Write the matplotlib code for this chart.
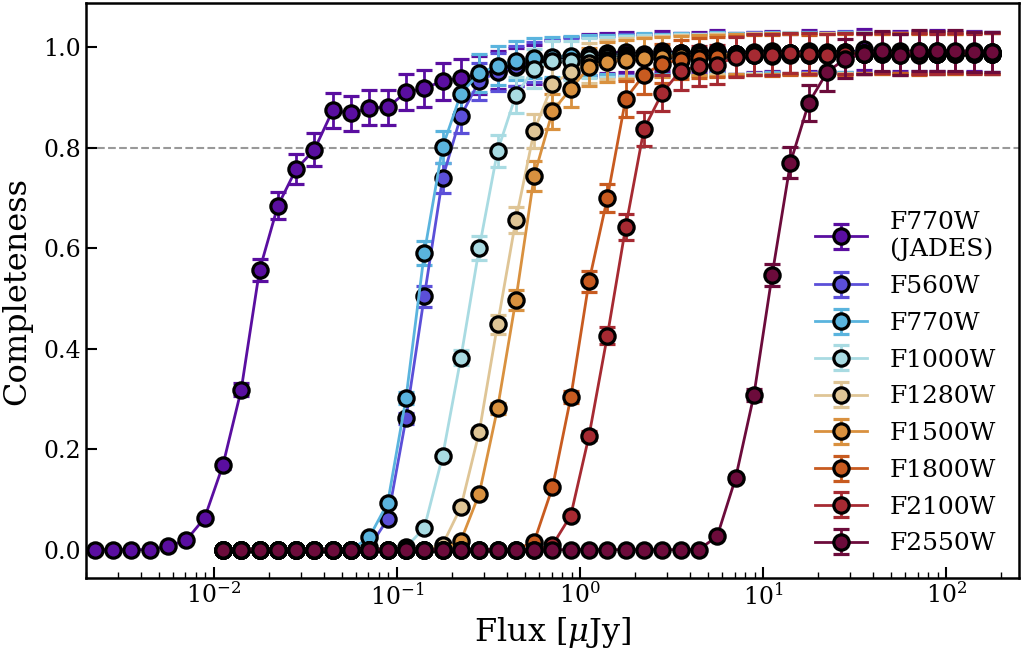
import matplotlib
matplotlib.use("Agg")
import matplotlib.pyplot as plt
import numpy as np

plt.rcParams['font.family'] = 'DejaVu Serif'
plt.rcParams['mathtext.fontset'] = 'dejavuserif'

# flux grid (log10 uJy), 0.1 dex steps
logflux_jades = [-2.65, -2.55, -2.45, -2.35, -2.25, -2.15, -2.05, -1.95, -1.85, -1.75,
                 -1.65, -1.55, -1.45, -1.35, -1.25, -1.15, -1.05, -0.95, -0.85, -0.75,
                 -0.65, -0.55, -0.45, -0.35, -0.25, -0.15, -0.05, 0.05, 0.15, 0.25,
                 0.35, 0.45, 0.55, 0.65, 0.75, 0.85, 0.95, 1.05, 1.15, 1.25,
                 1.35, 1.45, 1.55, 1.65, 1.75, 1.85, 1.95, 2.05, 2.15, 2.25]
logflux_miri = logflux_jades[7:]

comp_jades = [0.0, 0.0, 0.0, 0.0, 0.007, 0.019, 0.063, 0.168, 0.318, 0.556,
              0.684, 0.757, 0.796, 0.874, 0.868, 0.879, 0.880, 0.910, 0.918, 0.932,
              0.939, 0.945, 0.955, 0.960, 0.965, 0.975, 0.980, 0.985, 0.988, 0.990,
              0.985, 0.992, 0.988, 0.990, 0.993, 0.987, 0.990, 0.992, 0.988, 0.993,
              0.990, 0.988, 0.995, 0.990, 0.992, 0.988, 0.993, 0.990, 0.992, 0.990]
err_jades = [0.0, 0.0, 0.0, 0.0, 0.001, 0.002, 0.003, 0.007, 0.013, 0.022,
             0.027, 0.030, 0.032, 0.035, 0.035, 0.035, 0.035, 0.036, 0.037, 0.037,
             0.038, 0.038, 0.038, 0.038, 0.039, 0.039, 0.039, 0.040, 0.040, 0.040,
             0.040, 0.040, 0.040, 0.040, 0.040, 0.040, 0.040, 0.040, 0.040, 0.040,
             0.040, 0.040, 0.040, 0.040, 0.040, 0.040, 0.040, 0.040, 0.040, 0.040]

comp_f560w = [0.0, 0.0, 0.0, 0.0, 0.0, 0.0, 0.0, 0.0, 0.005, 0.061,
              0.261, 0.504, 0.739, 0.863, 0.932, 0.950, 0.962, 0.970, 0.975, 0.978,
              0.980, 0.982, 0.985, 0.984, 0.986, 0.988, 0.985, 0.990, 0.987, 0.989,
              0.990, 0.986, 0.990, 0.988, 0.991, 0.989, 0.990, 0.987, 0.992, 0.990,
              0.988, 0.990, 0.989]
comp_f770w = [0.0, 0.0, 0.0, 0.0, 0.0, 0.0, 0.0, 0.0, 0.025, 0.093,
              0.301, 0.590, 0.801, 0.907, 0.948, 0.963, 0.973, 0.978, 0.980, 0.982,
              0.984, 0.985, 0.983, 0.987, 0.986, 0.988, 0.985, 0.989, 0.987, 0.988,
              0.990, 0.987, 0.989, 0.988, 0.990, 0.986, 0.989, 0.988, 0.990, 0.987,
              0.989, 0.988, 0.990]
comp_f1000w = [0.0, 0.0, 0.0, 0.0, 0.0, 0.0, 0.0, 0.0, 0.0, 0.0,
               0.005, 0.043, 0.186, 0.382, 0.600, 0.793, 0.904, 0.957, 0.973, 0.973,
               0.978, 0.980, 0.982, 0.984, 0.983, 0.986, 0.985, 0.987, 0.986, 0.988,
               0.987, 0.989, 0.986, 0.988, 0.987, 0.989, 0.988, 0.986, 0.989, 0.987,
               0.988, 0.989, 0.987]
comp_f1280w = [0.0, 0.0, 0.0, 0.0, 0.0, 0.0, 0.0, 0.0, 0.0, 0.0,
               0.0, 0.0, 0.010, 0.085, 0.234, 0.448, 0.656, 0.833, 0.926, 0.950,
               0.968, 0.975, 0.978, 0.980, 0.982, 0.984, 0.983, 0.986, 0.985, 0.987,
               0.986, 0.988, 0.985, 0.987, 0.988, 0.986, 0.989, 0.987, 0.988, 0.986,
               0.988, 0.987, 0.989]
comp_f1500w = [0.0, 0.0, 0.0, 0.0, 0.0, 0.0, 0.0, 0.0, 0.0, 0.0,
               0.0, 0.0, 0.0, 0.018, 0.111, 0.281, 0.497, 0.743, 0.872, 0.917,
               0.960, 0.970, 0.975, 0.978, 0.980, 0.982, 0.984, 0.983, 0.986, 0.985,
               0.987, 0.986, 0.988, 0.985, 0.987, 0.988, 0.986, 0.988, 0.987, 0.989,
               0.986, 0.988, 0.987]
comp_f1800w = [0.0, 0.0, 0.0, 0.0, 0.0, 0.0, 0.0, 0.0, 0.0, 0.0,
               0.0, 0.0, 0.0, 0.0, 0.0, 0.0, 0.0, 0.016, 0.124, 0.303,
               0.534, 0.700, 0.897, 0.945, 0.967, 0.975, 0.978, 0.980, 0.982, 0.984,
               0.983, 0.985, 0.984, 0.986, 0.985, 0.987, 0.986, 0.988, 0.985, 0.987,
               0.986, 0.988, 0.987]
comp_f2100w = [0.0, 0.0, 0.0, 0.0, 0.0, 0.0, 0.0, 0.0, 0.0, 0.0,
               0.0, 0.0, 0.0, 0.0, 0.0, 0.0, 0.0, 0.0, 0.009, 0.068,
               0.227, 0.426, 0.642, 0.837, 0.909, 0.953, 0.962, 0.965, 0.980, 0.985,
               0.985, 0.988, 0.987, 0.985, 0.987, 0.986, 0.988, 0.985, 0.987, 0.986,
               0.988, 0.986, 0.987]
comp_f2550w = [0.0, 0.0, 0.0, 0.0, 0.0, 0.0, 0.0, 0.0, 0.0, 0.0,
               0.0, 0.0, 0.0, 0.0, 0.0, 0.0, 0.0, 0.0, 0.0, 0.0,
               0.0, 0.0, 0.0, 0.0, 0.0, 0.0, 0.0, 0.027, 0.142, 0.307,
               0.547, 0.770, 0.889, 0.950, 0.977, 0.987, 0.992, 0.985, 0.993, 0.992,
               0.993, 0.990, 0.990]

# error bars (roughly the same for all MIRI filters at a given completeness)
err_f560w = [0.0, 0.0, 0.0, 0.0, 0.0, 0.0, 0.0, 0.0, 0.001, 0.003,
             0.011, 0.021, 0.030, 0.035, 0.037, 0.038, 0.039, 0.039, 0.039, 0.039,
             0.039, 0.039, 0.040, 0.040, 0.040, 0.040, 0.040, 0.040, 0.040, 0.040,
             0.040, 0.040, 0.040, 0.040, 0.040, 0.040, 0.040, 0.040, 0.040, 0.040,
             0.040, 0.040, 0.040]
err_f770w = [0.0, 0.0, 0.0, 0.0, 0.0, 0.0, 0.0, 0.0, 0.002, 0.004,
             0.012, 0.024, 0.032, 0.036, 0.038, 0.039, 0.039, 0.039, 0.039, 0.039,
             0.039, 0.039, 0.040, 0.040, 0.040, 0.040, 0.040, 0.040, 0.040, 0.040,
             0.040, 0.040, 0.040, 0.040, 0.040, 0.040, 0.040, 0.040, 0.040, 0.040,
             0.040, 0.040, 0.040]
err_f1000w = [0.0, 0.0, 0.0, 0.0, 0.0, 0.0, 0.0, 0.0, 0.0, 0.0,
              0.001, 0.002, 0.008, 0.015, 0.024, 0.032, 0.036, 0.038, 0.039, 0.039,
              0.039, 0.039, 0.040, 0.040, 0.040, 0.040, 0.040, 0.040, 0.040, 0.040,
              0.040, 0.040, 0.040, 0.040, 0.040, 0.040, 0.040, 0.040, 0.040, 0.040,
              0.040, 0.040, 0.040]
err_f1280w = [0.0, 0.0, 0.0, 0.0, 0.0, 0.0, 0.0, 0.0, 0.0, 0.0,
              0.0, 0.0, 0.001, 0.004, 0.009, 0.018, 0.026, 0.033, 0.037, 0.038,
              0.039, 0.039, 0.039, 0.040, 0.040, 0.040, 0.040, 0.040, 0.040, 0.040,
              0.040, 0.040, 0.040, 0.040, 0.040, 0.040, 0.040, 0.040, 0.040, 0.040,
              0.040, 0.040, 0.040]
err_f1500w = [0.0, 0.0, 0.0, 0.0, 0.0, 0.0, 0.0, 0.0, 0.0, 0.0,
              0.0, 0.0, 0.0, 0.001, 0.004, 0.011, 0.020, 0.030, 0.035, 0.037,
              0.038, 0.039, 0.039, 0.039, 0.040, 0.040, 0.040, 0.040, 0.040, 0.040,
              0.040, 0.040, 0.040, 0.040, 0.040, 0.040, 0.040, 0.040, 0.040, 0.040,
              0.040, 0.040, 0.040]
err_f1800w = [0.0, 0.0, 0.0, 0.0, 0.0, 0.0, 0.0, 0.0, 0.0, 0.0,
              0.0, 0.0, 0.0, 0.0, 0.0, 0.0, 0.0, 0.001, 0.005, 0.012,
              0.021, 0.028, 0.036, 0.038, 0.039, 0.039, 0.039, 0.040, 0.040, 0.040,
              0.040, 0.040, 0.040, 0.040, 0.040, 0.040, 0.040, 0.040, 0.040, 0.040,
              0.040, 0.040, 0.040]
err_f2100w = [0.0, 0.0, 0.0, 0.0, 0.0, 0.0, 0.0, 0.0, 0.0, 0.0,
              0.0, 0.0, 0.0, 0.0, 0.0, 0.0, 0.0, 0.0, 0.001, 0.003,
              0.009, 0.017, 0.026, 0.033, 0.036, 0.038, 0.039, 0.039, 0.040, 0.040,
              0.040, 0.040, 0.040, 0.040, 0.040, 0.040, 0.040, 0.040, 0.040, 0.040,
              0.040, 0.040, 0.040]
err_f2550w = [0.0, 0.0, 0.0, 0.0, 0.0, 0.0, 0.0, 0.0, 0.0, 0.0,
              0.0, 0.0, 0.0, 0.0, 0.0, 0.0, 0.0, 0.0, 0.0, 0.0,
              0.0, 0.0, 0.0, 0.0, 0.0, 0.0, 0.0, 0.001, 0.006, 0.012,
              0.022, 0.031, 0.036, 0.038, 0.039, 0.040, 0.040, 0.040, 0.040, 0.040,
              0.040, 0.040, 0.040]

labels = ['F770W\n(JADES)', 'F560W', 'F770W', 'F1000W', 'F1280W',
          'F1500W', 'F1800W', 'F2100W', 'F2550W']
colors = ['#5a0ea0', '#5b4fd8', '#5ab4de', '#a9dbe2', '#dfc596',
          '#d9913f', '#c85b20', '#a62a32', '#6c0b3b']

series = [(logflux_jades, comp_jades, err_jades),
          (logflux_miri, comp_f560w, err_f560w),
          (logflux_miri, comp_f770w, err_f770w),
          (logflux_miri, comp_f1000w, err_f1000w),
          (logflux_miri, comp_f1280w, err_f1280w),
          (logflux_miri, comp_f1500w, err_f1500w),
          (logflux_miri, comp_f1800w, err_f1800w),
          (logflux_miri, comp_f2100w, err_f2100w),
          (logflux_miri, comp_f2550w, err_f2550w)]

fig = plt.figure(figsize=(10.21, 6.5), dpi=100)
ax = fig.add_axes([0.084, 0.111, 0.914, 0.884])

for (lx, c, e), lab, col in zip(series, labels, colors):
    ax.errorbar(10 ** np.array(lx), c, yerr=e, color=col, lw=2, marker='o',
                ms=11, mfc=col, mec='k', mew=2.3, capsize=6, capthick=2,
                elinewidth=2, label=lab)

ax.axhline(0.8, color='#999999', ls='--', lw=1.5, zorder=0)

ax.set_xscale('log')
ax.set_xlim(0.002, 250)
ax.set_ylim(-0.056, 1.087)
ax.set_yticks([0.0, 0.2, 0.4, 0.6, 0.8, 1.0])
ax.tick_params(which='both', direction='in', labelsize=17)
ax.tick_params(which='major', length=8, width=1.5)
ax.tick_params(which='minor', length=4, width=1)
for s in ax.spines.values():
    s.set_linewidth(1.8)

ax.set_xlabel(r'Flux [$\mu$Jy]', fontsize=23)
ax.set_ylabel('Completeness', fontsize=23, labelpad=8)

ax.legend(loc='lower right', frameon=False, fontsize=18, handlelength=2.1,
          bbox_to_anchor=(1.0, 0.0), labelspacing=0.55, handletextpad=0.9)

fig.savefig('out.png', dpi=100)
